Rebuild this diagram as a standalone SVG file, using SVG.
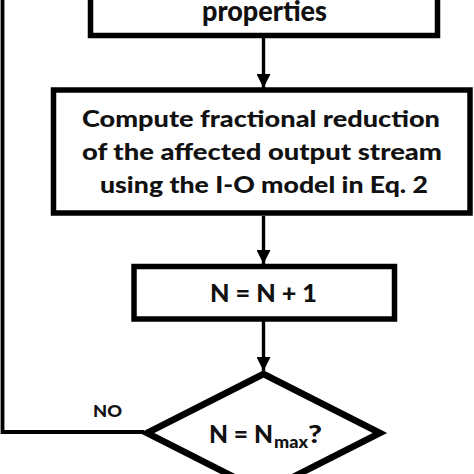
<svg xmlns="http://www.w3.org/2000/svg" width="474" height="474" viewBox="0 0 474 474">
<defs>
<style>
.box{fill:#fff;stroke:#000;stroke-width:5.5;stroke-linejoin:miter}
.ln{fill:none;stroke:#000;stroke-width:3.4}
.t{font-family:Lato,"Open Sans","Liberation Sans",sans-serif;font-weight:900;fill:#111;text-anchor:start}
</style>
<marker id="ah" viewBox="0 0 14 14" markerWidth="14" markerHeight="14" refX="14" refY="7" orient="auto" markerUnits="userSpaceOnUse">
<path d="M0,0 L14,7 L0,14 Z" fill="#000"/>
</marker>
</defs>
<rect width="474" height="474" fill="#fff"/>
<g id="connectors">
<line class="ln" x1="263.5" y1="38" x2="263.5" y2="88" marker-end="url(#ah)"/>
<line class="ln" x1="263.5" y1="216" x2="263.5" y2="264" marker-end="url(#ah)"/>
<line class="ln" x1="263.5" y1="321" x2="263.5" y2="371" marker-end="url(#ah)"/>
<polyline class="ln" points="144,432 2.5,432 2.5,-5" style="stroke-width:3.8"/>
<text class="t" x="93" y="417" font-size="17" textLength="29" lengthAdjust="spacingAndGlyphs">NO</text>
</g>
<g id="node-properties">
<rect class="box" x="90.5" y="-20" width="347" height="55.5"/>
<text class="t" x="202" y="20.5" font-size="27.5" textLength="125" lengthAdjust="spacingAndGlyphs">properties</text>
</g>
<g id="node-compute">
<rect class="box" x="53.5" y="90" width="416.5" height="123"/>
<text class="t" x="82" y="126.5" font-size="22" textLength="358" lengthAdjust="spacingAndGlyphs">Compute fractional reduction</text>
<text class="t" x="82" y="160" font-size="22" textLength="360" lengthAdjust="spacingAndGlyphs">of the affected output stream</text>
<text class="t" x="100" y="192.5" font-size="22" textLength="328" lengthAdjust="spacingAndGlyphs">using the I-O model in  Eq. 2</text>
</g>
<g id="node-increment">
<rect class="box" x="134" y="266.5" width="260.5" height="52.5"/>
<text class="t" x="210" y="302" font-size="24" textLength="107" lengthAdjust="spacingAndGlyphs">N = N + 1</text>
</g>
<g id="node-decision">
<polygon class="box" points="263.5,374 380,433 263.5,492 147,433" style="stroke-width:6.5"/>
<text class="t" x="209" y="443" font-size="25" textLength="64" lengthAdjust="spacingAndGlyphs">N = N</text>
<text class="t" x="274" y="448" font-size="17" textLength="34" lengthAdjust="spacingAndGlyphs">max</text>
<text class="t" x="308" y="443" font-size="25" textLength="14" lengthAdjust="spacingAndGlyphs">?</text>
</g>
</svg>
